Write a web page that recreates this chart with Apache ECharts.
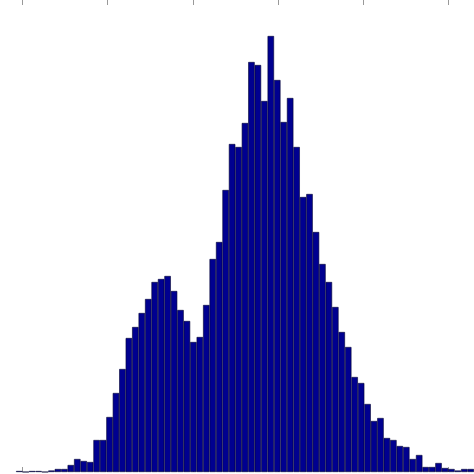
<!DOCTYPE html>
<html><head><meta charset="utf-8">
<script src="https://cdn.jsdelivr.net/npm/echarts@6/dist/echarts.min.js"></script>
<style>html,body{margin:0;padding:0;background:#fff}#c{width:474px;height:474px}</style>
</head><body><div id="c"></div>
<script>
const counts = [1,0,1,1,0,1.5,3,3,7,13,11,10,32,32,55,79,103,134,145,159,173,190,193,196,181,162,151,130,135,167,213,230,282,328,325,349,410,407,371,436,392,350,374,325,275,278,240,208,190,165,140,125,95,89,68,51,54,34,32,26,25,13,17,5,5,9,4,3,1.5,3,3];
const categories = counts.map((_, i) => String(i));
const tickValues = [6, 92, 179, 264, 350, 436];
const chart = echarts.init(document.getElementById('c'));
chart.setOption({
  animation: false,
  grid: {left: 16, top: 0, height: 472, width: 461.5},
  xAxis: [
    {type: 'category', data: categories, show: false},
    {type: 'value', position: 'top', min: 0, max: 461.5, axisLine: {show: false}, splitLine: {show: false}, axisLabel: {show: false},
     axisTick: {show: true, inside: true, length: 5, customValues: tickValues, lineStyle: {color: '#999'}}},
    {type: 'value', position: 'bottom', min: 0, max: 461.5, axisLine: {show: false}, splitLine: {show: false}, axisLabel: {show: false},
     axisTick: {show: true, inside: true, length: 5, customValues: tickValues, lineStyle: {color: '#999'}}}
  ],
  yAxis: {type: 'value', min: 0, max: 472, show: false},
  series: [{type: 'bar', data: counts, barCategoryGap: '0%', xAxisIndex: 0,
    itemStyle: {color: '#000090', borderColor: '#000030', borderWidth: 0.6}}]
});
</script></body></html>
